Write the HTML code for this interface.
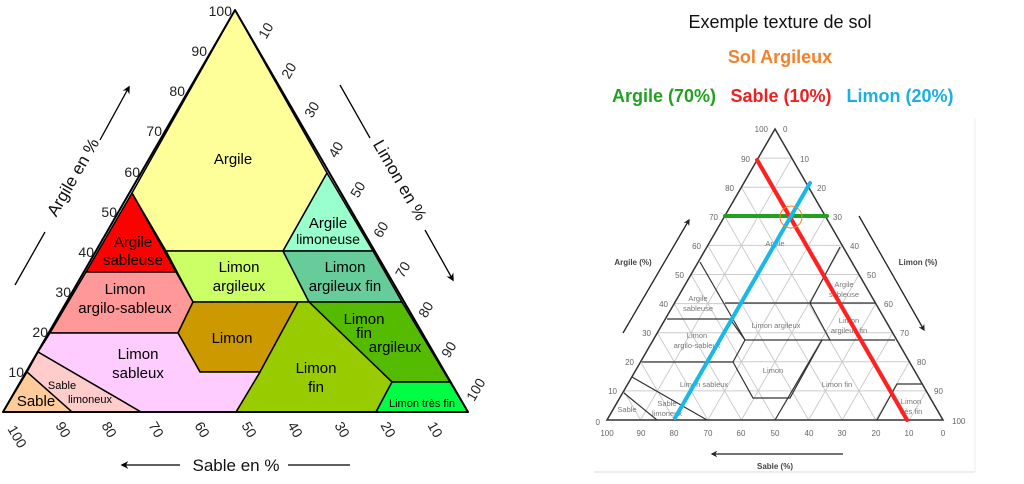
<!DOCTYPE html>
<html><head><meta charset="utf-8"><style>
body{margin:0;background:#fff;}
svg{display:block;font-family:"Liberation Sans",sans-serif;}
</style></head><body>
<svg width="1024" height="484" viewBox="0 0 1024 484" xmlns="http://www.w3.org/2000/svg">
<defs>
<marker id="ah" viewBox="0 0 10 10" refX="8" refY="5" markerWidth="6" markerHeight="6" orient="auto"><path d="M0,0 L10,5 L0,10 L3,5 z" fill="#000"/></marker>
<marker id="ah2" viewBox="0 0 10 10" refX="8" refY="5" markerWidth="5" markerHeight="5" orient="auto"><path d="M0,0 L10,5 L0,10 L3,5 z" fill="#222"/></marker>
</defs>
<!-- LEFT TRIANGLE -->
<g stroke="#000" stroke-width="1.5" stroke-linejoin="round">
<polygon points="235,10 132,193 166,251 283,251 327,173" fill="#ffff99"/>
<polygon points="132,193 176,272 86,272" fill="#ff0000"/>
<polygon points="327,173 283,251 373,251" fill="#99ffcc"/>
<polygon points="166,251 283,251 309,302 193,302" fill="#ccff66"/>
<polygon points="283,251 373,251 402,302 309,302" fill="#66cc99"/>
<polygon points="86,272 176,272 193,302 178,333 50,333" fill="#ff9999"/>
<polygon points="193,302 298,302 260,372 200,372 178,333" fill="#cc9900"/>
<polygon points="309,302 402,302 450,382 392,382" fill="#55bb00"/>
<polygon points="298,302 309,302 392,382 376,412 236,412 260,372" fill="#99cc00"/>
<polygon points="392,382 450,382 468,412 376,412" fill="#00ff44"/>
<polygon points="50,333 178,333 200,372 260,372 236,412 141,412 38,352" fill="#ffccff"/>
<polygon points="38,352 141,412 72,412 27,372" fill="#ffcccc"/>
<polygon points="27,372 72,412 3,412" fill="#ffcc99"/>
<polygon points="235,10 3,412 468,412" fill="none" stroke-width="2"/>
</g>
<g font-size="15" fill="#000" text-anchor="middle">
<text x="233" y="164">Argile</text>
<text x="133" y="247">Argile</text><text x="133" y="265">sableuse</text>
<text x="328" y="228">Argile</text><text x="328" y="244" font-size="14">limoneuse</text>
<text x="239" y="272">Limon</text><text x="239" y="291">argileux</text>
<text x="345" y="272">Limon</text><text x="345" y="291">argileux fin</text>
<text x="125" y="294">Limon</text><text x="125" y="313">argilo-sableux</text>
<text x="232" y="343">Limon</text>
<text x="364" y="324">Limon</text><text x="364" y="338">fin</text><text x="395" y="352">argileux</text>
<text x="138" y="359">Limon</text><text x="138" y="378">sableux</text>
<text x="316" y="373">Limon</text><text x="316" y="392">fin</text>
<text x="422" y="407" font-size="11">Limon très fin</text>
<text x="36" y="406">Sable</text>
<text x="62" y="389" font-size="11">Sable</text><text x="90" y="403" font-size="11">limoneux</text>
</g>
<g font-size="14" fill="#222" text-anchor="end">
<text x="232" y="16">100</text><text x="207" y="56">90</text><text x="185" y="96">80</text><text x="162" y="136">70</text><text x="140" y="177">60</text><text x="117" y="217">50</text><text x="94" y="257">40</text><text x="71" y="297">30</text><text x="48" y="337">20</text><text x="24" y="377">10</text>
</g>
<g font-size="14" fill="#222" text-anchor="middle">
<text transform="translate(270,33) rotate(-60)">10</text>
<text transform="translate(293,73) rotate(-60)">20</text>
<text transform="translate(316,112) rotate(-60)">30</text>
<text transform="translate(340,152) rotate(-60)">40</text>
<text transform="translate(362,192) rotate(-60)">50</text>
<text transform="translate(385,232) rotate(-60)">60</text>
<text transform="translate(407,272) rotate(-60)">70</text>
<text transform="translate(430,312) rotate(-60)">80</text>
<text transform="translate(453,352) rotate(-60)">90</text>
<text transform="translate(480,392) rotate(-60)">100</text>
<text transform="translate(13,439) rotate(60)">100</text>
<text transform="translate(59,432) rotate(60)">90</text>
<text transform="translate(105,432) rotate(60)">80</text>
<text transform="translate(152,432) rotate(60)">70</text>
<text transform="translate(198,432) rotate(60)">60</text>
<text transform="translate(245,432) rotate(60)">50</text>
<text transform="translate(291,432) rotate(60)">40</text>
<text transform="translate(338,432) rotate(60)">30</text>
<text transform="translate(384,432) rotate(60)">20</text>
<text transform="translate(431,432) rotate(60)">10</text>
</g>
<g font-size="17" fill="#111" text-anchor="middle">
<text transform="translate(78,180) rotate(-60)">Argile en %</text>
<text transform="translate(395,183) rotate(60)">Limon en %</text>
<text x="236" y="471">Sable en %</text>
</g>
<g stroke="#000" stroke-width="1.3" fill="none">
<line x1="15" y1="285" x2="45" y2="232"/>
<line x1="100" y1="140" x2="129" y2="87" marker-end="url(#ah)"/>
<line x1="340" y1="85" x2="370" y2="138"/>
<line x1="425" y1="230" x2="453" y2="280" marker-end="url(#ah)"/>
<line x1="180" y1="465" x2="122" y2="465" marker-end="url(#ah)"/>
<line x1="288" y1="465" x2="350" y2="465"/>
</g>
<!-- RIGHT SIDE -->
<g font-size="18" text-anchor="middle">
<text x="780" y="28" fill="#111">Exemple texture de sol</text>
<text x="780" y="63" fill="#f5802a" font-weight="bold">Sol Argileux</text>
<text x="664" y="102" fill="#22a020" font-weight="bold">Argile (70%)</text>
<text x="781" y="102" fill="#ee2020" font-weight="bold">Sable (10%)</text>
<text x="900" y="102" fill="#1ab0e0" font-weight="bold">Limon (20%)</text>
</g>
<line x1="594" y1="472" x2="975" y2="472" stroke="#ddd"/>
<line x1="975" y1="118" x2="975" y2="472" stroke="#eee"/>
<!-- grid -->
<g transform="matrix(3.36 0 0 -2.91 607 420)" stroke="#ccc" fill="none">
<g vector-effect="non-scaling-stroke">
<path vector-effect="non-scaling-stroke" d="M5,10 L95,10 M10,20 L90,20 M15,30 L85,30 M20,40 L80,40 M25,50 L75,50 M30,60 L70,60 M35,70 L65,70 M40,80 L60,80 M45,90 L55,90
M10,0 L55,90 M20,0 L60,80 M30,0 L65,70 M40,0 L70,60 M50,0 L75,50 M60,0 L80,40 M70,0 L85,30 M80,0 L90,20 M90,0 L95,10
M90,0 L45,90 M80,0 L40,80 M70,0 L35,70 M60,0 L30,60 M50,0 L25,50 M40,0 L20,40 M30,0 L15,30 M20,0 L10,20 M10,0 L5,10"/>
</g>
</g>
<g stroke="#333" stroke-width="1.2" fill="none">
<polygon points="775,129 607,420 943,420" stroke-width="1.5"/>
<polyline points="700,262 745,340"/>
<line x1="725" y1="303" x2="875" y2="303"/>
<line x1="810" y1="303" x2="840" y2="247"/>
<line x1="667" y1="319" x2="730" y2="319"/>
<line x1="730" y1="319" x2="745" y2="340"/>
<line x1="745" y1="340" x2="895" y2="340"/>
<line x1="810" y1="303" x2="830" y2="340"/>
<line x1="642" y1="362" x2="733" y2="362"/>
<polyline points="745,340 733,362 753,398 790,398 822,340"/>
<line x1="822" y1="340" x2="775" y2="420"/>
<line x1="632" y1="377" x2="707" y2="420"/>
<line x1="624" y1="393" x2="657" y2="420"/>
<polyline points="877,420 897,384 922,384"/>
</g>
<g font-size="7.5" fill="#777" text-anchor="middle">
<text x="775" y="246">Argile</text>
<text x="844" y="287">Argile</text><text x="844" y="297">sableuse</text>
<text x="698" y="301">Argile</text><text x="698" y="311">sableuse</text>
<text x="776" y="328">Limon argileux</text>
<text x="849" y="323">Limon</text><text x="849" y="333">argileux fin</text>
<text x="697" y="338">Limon</text><text x="697" y="348">argilo-sableux</text>
<text x="773" y="373">Limon</text>
<text x="704" y="387">Limon sableux</text>
<text x="837" y="387">Limon fin</text>
<text x="627" y="412">Sable</text>
<text x="667" y="406">Sable</text><text x="667" y="416">limoneux</text>
<text x="911" y="404">Limon</text><text x="911" y="414">très fin</text>
</g>
<g font-size="8" fill="#666">
<g text-anchor="end">
<text x="768" y="132">100</text><text x="750" y="162">90</text><text x="734" y="191">80</text><text x="718" y="220">70</text><text x="701" y="249">60</text><text x="684" y="278">50</text><text x="668" y="307">40</text><text x="651" y="336">30</text><text x="634" y="365">20</text><text x="617" y="394">10</text><text x="600" y="425">0</text>
</g>
<text x="783" y="132">0</text><text x="800" y="162">10</text><text x="817" y="191">20</text><text x="833" y="220">30</text><text x="850" y="249">40</text><text x="867" y="278">50</text><text x="884" y="307">60</text><text x="900" y="336">70</text><text x="917" y="365">80</text><text x="934" y="394">90</text><text x="952" y="424">100</text>
<g text-anchor="middle">
<text x="607" y="436">100</text><text x="641" y="436">90</text><text x="674" y="436">80</text><text x="708" y="436">70</text><text x="741" y="436">60</text><text x="775" y="436">50</text><text x="809" y="436">40</text><text x="842" y="436">30</text><text x="876" y="436">20</text><text x="909" y="436">10</text><text x="943" y="436">0</text>
</g>
</g>
<g font-size="8" font-weight="bold" fill="#444" text-anchor="middle">
<text x="633" y="265">Argile (%)</text>
<text x="918" y="265">Limon (%)</text>
<text x="775" y="469">Sable (%)</text>
</g>
<g stroke="#222" stroke-width="1.3" fill="none">
<line x1="623" y1="333" x2="689" y2="220" marker-end="url(#ah2)"/>
<line x1="859" y1="216" x2="924" y2="330" marker-end="url(#ah2)"/>
<line x1="843" y1="454" x2="712" y2="454" marker-end="url(#ah2)"/>
</g>
<g stroke-width="4" stroke-linecap="round">
<line x1="725" y1="216" x2="827" y2="216" stroke="#22a020"/>
<line x1="757" y1="160" x2="907" y2="420" stroke="#ff2020"/>
<line x1="810" y1="183" x2="675" y2="418" stroke="#1ab8e8"/>
</g>
<circle cx="791" cy="217" r="11" fill="none" stroke="#f5802a" stroke-width="1"/>
</svg>
</body></html>
